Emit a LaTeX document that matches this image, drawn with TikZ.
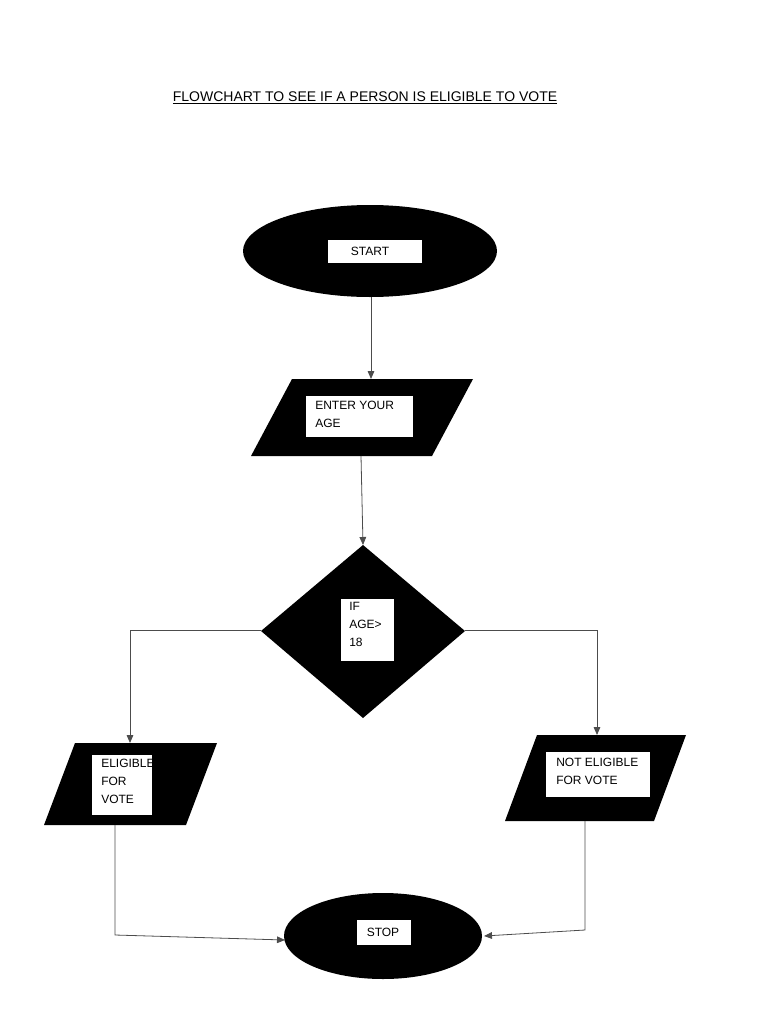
\documentclass[tikz,border=0pt]{standalone}
\usepackage{fontspec}
\setmainfont{Liberation Sans}
\usetikzlibrary{arrows.meta}
\begin{document}
\begin{tikzpicture}[x=0.75pt,y=-0.75pt,
  shp/.style={fill=black},
  wb/.style={fill=white,draw=none},
  lbl/.style={font=\fontsize{9}{13.5}\selectfont,align=left,anchor=north west,inner sep=0pt},
  ln/.style={draw=black!70,line width=0.6pt},
  ar/.style={ln,-{Triangle[length=6pt,width=5pt]}}]
\useasboundingbox (0,0) rectangle (768,1024);
\node[font=\fontsize{10.5}{13}\selectfont] (title) at (365,98) {\underline{FLOWCHART TO SEE IF A PERSON IS ELIGIBLE TO VOTE}};
% start
\fill[shp] (370,251) ellipse [x radius=127,y radius=46];
\coordinate (startT) at (371,297);
\fill[wb] (328,240) rectangle (422,263);
\node[font=\fontsize{9}{11}\selectfont] (start) at (370,251) {START};
% input
\fill[shp] (292,379) -- (473,379) -- (432,456) -- (251,456) -- cycle;
\coordinate (inT) at (371,379); \coordinate (inB) at (361,456);
\fill[wb] (306,396) rectangle (413,437);
\node[lbl] (in) at (315,401) {ENTER YOUR\\AGE};
% decision
\fill[shp] (363,545) -- (465,631) -- (363,718) -- (261,631) -- cycle;
\coordinate (dT) at (363,545); \coordinate (dL) at (261,630); \coordinate (dR) at (465,630);
\fill[wb] (341,599) rectangle (394,661);
\node[lbl] (dec) at (349,602) {IF\\AGE>\\18};
% left out
\fill[shp] (75,743) -- (217,743) -- (186,825) -- (44,825) -- cycle;
\coordinate (lT) at (130,743); \coordinate (lB) at (115,825);
\fill[wb] (92,755) rectangle (152,815);
\node[lbl] (yes) at (101,759) {ELIGIBLE\\FOR\\VOTE};
% right out
\fill[shp] (537,735) -- (686,735) -- (654,821) -- (505,821) -- cycle;
\coordinate (rT) at (597,735); \coordinate (rB) at (585,821);
\fill[wb] (546,752) rectangle (650,797);
\node[lbl] (no) at (556,758) {NOT ELIGIBLE\\FOR VOTE};
% stop
\fill[shp] (383,936) ellipse [x radius=99,y radius=43];
\coordinate (sL) at (285,940); \coordinate (sR) at (484,936);
\fill[wb] (357,920) rectangle (411,945);
\node[font=\fontsize{9}{11}\selectfont] (stop) at (383,932) {STOP};
% connectors
\draw[ar] (startT) -- (inT);
\draw[ar] (inB) -- (dT);
\draw[ar] (dL) -- (130,630) -- (lT);
\draw[ar] (dR) -- (597,630) -- (rT);
\draw[ar] (lB) -- (115,935) -- (sL);
\draw[ar] (rB) -- (585,930) -- (sR);
\end{tikzpicture}
\end{document}
